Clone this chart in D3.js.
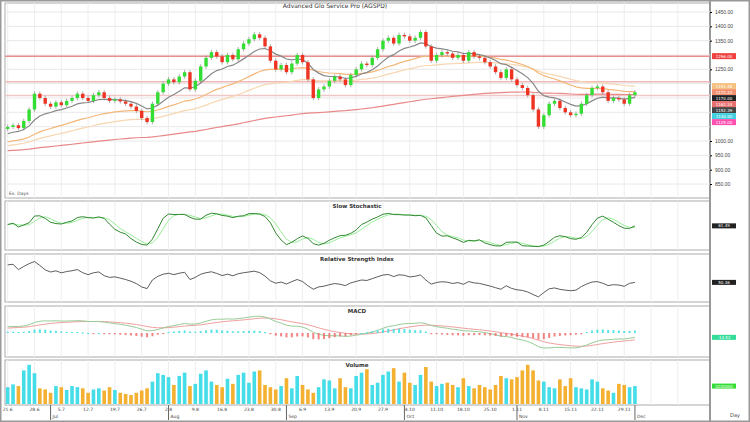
<!DOCTYPE html><html><head><meta charset="utf-8">
<script src="https://cdn.jsdelivr.net/npm/d3@7"></script>
<style>body{margin:0;background:#fff}svg{font-family:"DejaVu Sans",sans-serif}</style></head><body>
<svg id="c" width="750" height="422"></svg>
<script>
const title="Advanced Glo Service Pro (AGSPD)";
const history=[955,962,958,970,975,968,980,990,985,995,1000,1008,1002,1012,1020,1015,1025,1030,1038,1042];
const closes=[1049,1055,1045,1070,1110,1165,1150,1130,1120,1135,1125,1140,1150,1165,1150,1140,1160,1170,1150,
1140,1145,1138,1130,1120,1105,1080,1066,1130,1170,1200,1215,1205,1225,1240,1180,1210,1260,1290,
1310,1295,1275,1300,1285,1320,1340,1355,1372,1360,1330,1280,1250,1265,1240,1270,1300,1275,1215,1150,1180,
1190,1210,1225,1215,1195,1230,1250,1270,1265,1290,1320,1350,1360,1340,1370,1365,1350,1360,1380,1330,1280,1300,
1310,1305,1290,1300,1280,1310,1295,1290,1275,1260,1240,1220,1250,1215,1195,1185,1160,1110,1050,
1090,1130,1140,1115,1100,1090,1095,1130,1160,1185,1190,1170,1140,1150,1145,1130,1160,1170];
const volumes=[30,35,32,60,70,55,28,26,20,32,30,25,32,30,28,20,26,28,24,30,25,20,18,16,20,24,28,40,55,52,48,34,50,56,32,36,54,60,
40,34,30,45,36,52,56,38,58,60,34,30,26,32,46,28,50,34,26,20,30,44,42,28,46,30,28,50,56,62,34,38,52,58,
64,40,56,38,34,52,66,40,32,36,38,34,30,46,32,28,34,30,26,34,50,46,44,48,60,70,60,42,40,30,28,44,32,46,
30,28,26,44,40,28,24,20,36,34,30,32];
const priceTicks=[850,900,950,1000,1050,1100,1150,1200,1250,1300,1350,1400,1450];
const refLevels=[{v:1296,c:"#e89090"},{v:1207,c:"#f0b8b8"},{v:1159,c:"#f0c8c8"}];
const panelTitles=["Slow Stochastic","Relative Strength Index","MACD","Volume"];

const svg=d3.select("#c");
const L=5,R=710,n=closes.length;
const x=d3.scaleLinear().domain([-0.5,n+13]).range([L,R]);
const opens=closes.map((c,i)=>i?closes[i-1]:history[history.length-1]);
const highs=closes.map((c,i)=>Math.max(c,opens[i])+8);
const lows=closes.map((c,i)=>Math.min(c,opens[i])-8);
const start=new Date(2021,5,21);const dates=[];let d=new Date(start);
while(dates.length<n){if(d.getDay()%6)dates.push(new Date(d));d.setDate(d.getDate()+1);}

function ema(arr,p,seed){const k=2/(p+1);let e=seed;return arr.map(v=>e=v*k+e*(1-k));}
const all=history.concat(closes),h=history.length;
const mas=[{p:10,c:"#888"},{p:30,c:"#f3b77a"},{p:50,c:"#f7d6b0"},{p:150,c:"#e88888"}].map(m=>({c:m.c,v:ema(all,m.p,all[0]).slice(h)}));

svg.append("rect").attr("width",750).attr("height",422).attr("fill","#fff").attr("stroke","#999").attr("stroke-width",3);
const panels=[[3,198],[201,250],[254,302],[306,357],[360,405]];
panels.forEach(p=>{svg.append("rect").attr("x",L).attr("y",p[0]).attr("width",R-L).attr("height",p[1]-p[0]).attr("fill","#fff").attr("stroke","#aaa");});
svg.append("line").attr("x1",R).attr("x2",R).attr("y1",0).attr("y2",422).attr("stroke","#999").attr("stroke-width",2);
const vg=d3.range(0,n+12,5);
panels.forEach(p=>svg.append("g").selectAll("line").data(vg).join("line").attr("x1",i=>x(i)).attr("x2",i=>x(i)).attr("y1",p[0]).attr("y2",p[1]).attr("stroke","#eee"));

const y=d3.scaleLinear().domain([850,1450]).range([184,12]);
const tags=[{v:refLevels[0].v,c:"#f04040"},{v:0,c:"#f39070",m:1},{v:0,c:"#f5c080",m:2},{v:closes[n-1],c:"#222"},{v:0,c:"#444",m:0},{v:1140,c:"#40d0e0"},{v:1125,c:"#ff50b0"},{v:0,c:"#e87070",m:3}];
tags.forEach(t=>{if(t.m!==undefined)t.v=mas[t.m].v[n-1];});
const st=tags.slice().sort((a,b)=>y(a.v)-y(b.v));let ty=[];st.forEach((t,i)=>ty.push(i?Math.max(y(t.v),ty[i-1]+6):y(t.v)));
const free=v=>ty.every(t=>Math.abs(t-y(v))>6);
svg.append("g").selectAll("line").data(priceTicks).join("line").attr("x1",L).attr("x2",R).attr("y1",y).attr("y2",y).attr("stroke","#e8e8e8");
svg.append("g").attr("transform",`translate(${R},0)`).call(d3.axisRight(y).tickValues(priceTicks.filter(free)).tickSize(2).tickFormat(d3.format(".2f"))).call(g=>{g.select(".domain").remove();g.selectAll("text").attr("font-size",5).attr("fill","#444");});
refLevels.forEach(r=>svg.append("line").attr("x1",L).attr("x2",R).attr("y1",y(r.v)).attr("y2",y(r.v)).attr("stroke",r.c).attr("stroke-width",1.5));
const line=d3.line().x((v,i)=>x(i)).y(y);
mas.slice().reverse().forEach(m=>svg.append("path").attr("d",line(m.v)).attr("fill","none").attr("stroke",m.c).attr("stroke-width",1.2));
const cg=svg.append("g");
closes.forEach((c,i)=>{const up=c>=opens[i],col=up?"#33dd33":"#ee3322";
cg.append("line").attr("x1",x(i)).attr("x2",x(i)).attr("y1",y(highs[i])).attr("y2",y(lows[i])).attr("stroke","#777").attr("stroke-width",0.6);
cg.append("rect").attr("x",x(i)-1.7).attr("width",3.4).attr("y",y(Math.max(c,opens[i]))).attr("height",Math.max(1,Math.abs(y(c)-y(opens[i])))).attr("fill",col);});
svg.append("text").attr("x",335).attr("y",8).attr("text-anchor","middle").attr("font-size",6).attr("fill","#333").text(title);
svg.append("text").attr("x",9).attr("y",195).attr("font-size",4.5).attr("fill","#555").text("Ex. Days");
st.forEach((t,i)=>{svg.append("rect").attr("x",R+2).attr("y",ty[i]-3).attr("width",24).attr("height",6).attr("fill",t.c);
svg.append("text").attr("x",R+14).attr("y",ty[i]+1.5).attr("text-anchor","middle").attr("font-size",4).attr("fill","#fff").text(t.v.toFixed(2));});

const K=closes.map((c,i)=>{const s=Math.max(0,i-13),hh=d3.max(highs.slice(s,i+1)),ll=d3.min(lows.slice(s,i+1));return 100*(c-ll)/(hh-ll);});
const sk=K.map((v,i)=>d3.mean(K.slice(Math.max(0,i-2),i+1))),sd=sk.map((v,i)=>d3.mean(sk.slice(Math.max(0,i-2),i+1)));
const ys=d3.scaleLinear().domain([0,100]).range([248,212]);
svg.append("path").attr("d",d3.line().x((v,i)=>x(i)).y(ys)(sd)).attr("fill","none").attr("stroke","#99ee99");
svg.append("path").attr("d",d3.line().x((v,i)=>x(i)).y(ys)(sk)).attr("fill","none").attr("stroke","#338833");
const rsi=[];let ag=0,al=0;all.forEach((c,i)=>{if(!i)return;const ch=c-all[i-1];ag=(ag*13+Math.max(ch,0))/14;al=(al*13+Math.max(-ch,0))/14;if(i>=h)rsi.push(100-100/(1+ag/(al||1e-6)));});
const yr=d3.scaleLinear().domain([20,90]).range([298,262]);
svg.append("path").attr("d",d3.line().x((v,i)=>x(i)).y(yr)(rsi)).attr("fill","none").attr("stroke","#333").attr("stroke-width",0.8);
const e12=ema(all,12,all[0]),e26=ema(all,26,all[0]);const macd=e12.map((v,i)=>v-e26[i]);const sig=ema(macd,9,macd[0]);
const mc=macd.slice(h),sg=sig.slice(h),hist=mc.map((v,i)=>v-sg[i]);
const ym=d3.scaleLinear().domain([-70,70]).range([354,312]);
svg.append("path").attr("d",d3.line().x((v,i)=>x(i)).y(ym)(sg)).attr("fill","none").attr("stroke","#f0a0a0");
svg.append("path").attr("d",d3.line().x((v,i)=>x(i)).y(ym)(mc)).attr("fill","none").attr("stroke","#99cc99");
svg.append("g").selectAll("rect").data(hist).join("rect").attr("x",(v,i)=>x(i)-1).attr("width",2).attr("y",v=>Math.min(ym(v),ym(0))).attr("height",v=>Math.max(1.2,Math.abs(ym(v)-ym(0)))).attr("fill",v=>v>=0?"#33dddd":"#ee6666").attr("opacity",0.8);
const yv=d3.scaleLinear().domain([0,75]).range([404,362]);
svg.append("g").selectAll("rect").data(volumes.slice(0,n)).join("rect").attr("x",(v,i)=>x(i)-1.8).attr("width",3.6).attr("y",yv).attr("height",v=>yv(0)-yv(v)).attr("fill",(v,i)=>closes[i]>=opens[i]?"#44dde8":"#f4b030");
[[205,0],[258,1],[310,2],[364,3]].forEach(([py,k])=>svg.append("text").attr("x",357).attr("y",py+3).attr("text-anchor","middle").attr("font-size",5.5).attr("font-weight","bold").attr("fill","#333").text(panelTitles[k]));
const lv=volumes[n-1];
[[ys(sk[n-1]),"#222",sk[n-1].toFixed(2)],[yr(rsi[n-1]),"#222",rsi[n-1].toFixed(2)],[ym(mc[n-1]),"#33dd99",mc[n-1].toFixed(2)],[yv(lv),"#33dd33",String(lv*100000)]].forEach(([yy,c,v])=>{svg.append("rect").attr("x",R+2).attr("y",yy-2.5).attr("width",24).attr("height",5).attr("fill",c);svg.append("text").attr("x",R+14).attr("y",yy+1.6).attr("text-anchor","middle").attr("font-size",4).attr("fill","#fff").text(v);});
const ag2=svg.append("g");
dates.forEach((dt,i)=>{if(i%5===0){ag2.append("text").attr("x",x(i)).attr("y",411).attr("font-size",4.5).attr("fill","#444").attr("text-anchor","middle").text(dt.getDate()+"."+(dt.getMonth()+1));}
if(i&&dt.getMonth()!==dates[i-1].getMonth()){ag2.append("line").attr("x1",x(i)).attr("x2",x(i)).attr("y1",405).attr("y2",420).attr("stroke","#666");ag2.append("text").attr("x",x(i)+2).attr("y",418).attr("font-size",4.5).attr("fill","#444").text(d3.timeFormat("%b")(dt));}});
svg.append("text").attr("x",735).attr("y",417).attr("text-anchor","middle").attr("font-size",5).attr("fill","#444").text("Day");
</script></body></html>
